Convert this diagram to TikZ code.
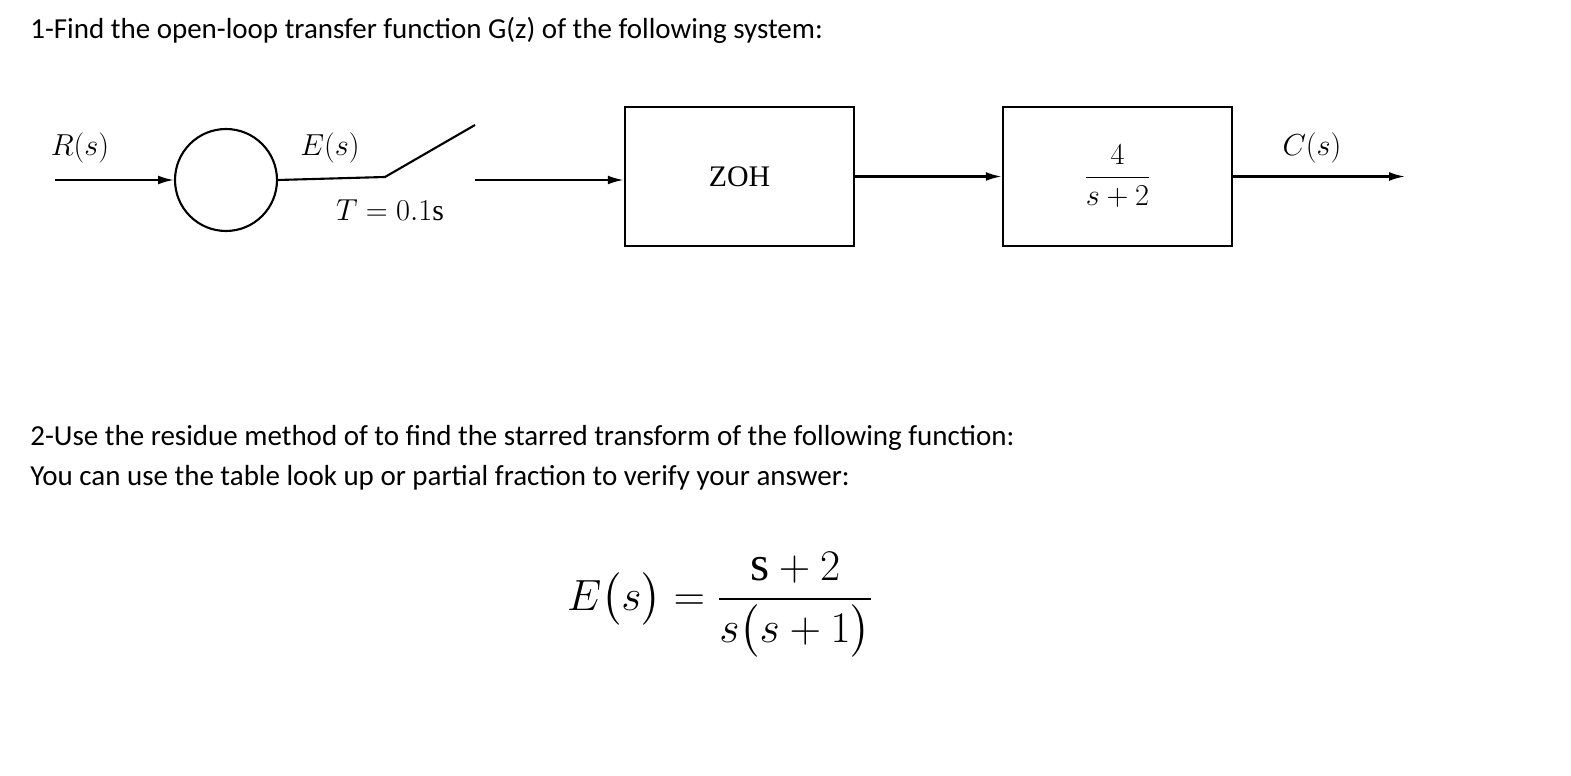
\documentclass[tikz,border=0pt]{standalone}
\usepackage{amsmath}
\usepackage{fontspec}
\setmainfont{Liberation Serif}
\newfontfamily\calfont{Carlito}
\usetikzlibrary{arrows.meta}
\begin{document}
\begin{tikzpicture}[x=0.02cm,y=-0.02cm,
  sig/.style={line width=1.2pt,-{Latex[length=9pt,width=5pt]}},
  wire/.style={line width=1.2pt},
  blk/.style={draw,line width=1.5pt,minimum width=4.58cm,minimum height=2.78cm,inner sep=0pt,font=\fontsize{17}{20}\selectfont},
  lab/.style={font=\fontsize{17}{20}\selectfont,inner sep=0pt},
  txt/.style={font=\calfont\fontsize{16.5}{20}\selectfont,anchor=west,inner sep=0pt}]
\useasboundingbox (0,0) rectangle (1571,776);
\node[txt] (t1) at (30,30) {1-Find the open-loop transfer function G(z) of the following system:};
\coordinate (in) at (55,180);
\node[draw,circle,line width=1.2pt,minimum size=2.04cm,inner sep=0pt] (sum) at (226,180) {};
\draw[sig] (in) -- (sum.west);
\coordinate (sw1) at (385,177);
\coordinate (sw2) at (475,125);
\draw[wire] (sum.east) -- (sw1) -- (sw2);
\node[lab] (R) at (80,148) {$R(s)$};
\node[lab] (E) at (330,148) {$E(s)$};
\node[lab] (T) at (390,210) {$T = 0.1\mathrm{s}$};
\coordinate (sw3) at (475,180);
\node[blk] (zoh) at (739.5,176.5) {ZOH};
\node[blk] (g) at (1117.5,176.5) {$\dfrac{4}{s+2}$};
\draw[sig] (sw3) -- (sw3 -| zoh.west);
\draw[sig] (zoh.east) -- (g.west);
\coordinate (out) at (1405,176.5);
\draw[sig] (g.east) -- (out);
\node[lab] (C) at (1312,148) {$C(s)$};
\node[txt] (t2) at (30,438) {2-Use the residue method of to find the starred transform of the following function:};
\node[txt] (t3) at (30,478) {You can use the table look up or partial fraction to verify your answer:};
\node[inner sep=0pt,font=\fontsize{28}{32}\selectfont] (eq) at (720,605) {$E\bigl(s\bigr)=\dfrac{\mathrm{s}+2}{s\bigl(s+1\bigr)}$};
\end{tikzpicture}
\end{document}
